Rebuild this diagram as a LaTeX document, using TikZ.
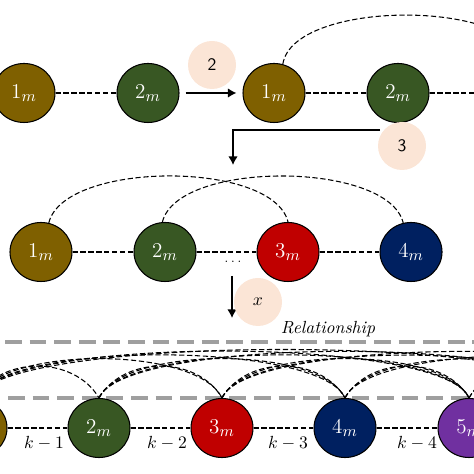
\documentclass[tikz,border=0pt]{standalone}
\usepackage{amsmath}
\usetikzlibrary{arrows.meta, shapes.geometric}

\definecolor{mbrown}{HTML}{7F6000}
\definecolor{mgreen}{HTML}{385723}
\definecolor{mred}{HTML}{C00000}
\definecolor{mnavy}{HTML}{002060}
\definecolor{mpurple}{HTML}{7030A0}
\definecolor{peach}{HTML}{FBE5D6}

\tikzset{
  mnode/.style={ellipse, draw=black, line width=0.6pt, minimum width=1.24cm, minimum height=1.18cm, inner sep=0pt, text=white, font=\fontsize{13}{15}\selectfont},
  tag/.style={circle, fill=peach, minimum size=0.96cm, inner sep=0pt, font=\sffamily},
  link/.style={black, line width=0.6pt, dash pattern=on 3pt off 1.5pt},
  band/.style={gray!75, line width=2.2pt, dash pattern=on 9.5pt off 4.5pt},
  go/.style={black, line width=0.9pt, -{Latex[length=1.7mm, width=1.9mm]}},
}

\begin{document}
\begin{tikzpicture}
\clip (0,0) rectangle (9.48,9.48);

% first row
\node[mnode, fill=mbrown] (n11) at (0.48,7.62) {$1_m$};
\node[mnode, fill=mgreen] (n12) at (2.96,7.62) {$2_m$};
\node[mnode, fill=mbrown] (n13) at (5.48,7.62) {$1_m$};
\node[mnode, fill=mgreen] (n14) at (7.96,7.62) {$2_m$};
\coordinate (n15) at (10.54,8.21);
\coordinate (n1r) at (9.6,7.62);

\draw[link] (n11) -- (n12);
\draw[link] (n13) -- (n14);
\draw[link] (n14) -- (n1r);
\draw[link] (n13.73) .. controls +(0.2,1.3) and +(-0.2,1.3) .. (n15);

\node[tag] (t2) at (4.24,8.18) {2};
\draw[go, shorten <=0.12cm, shorten >=0.12cm] (n12) -- (n13);

% step 3
\coordinate (e3a) at (7.6,6.88);
\coordinate (e3b) at (4.66,6.18);
\draw[go] (e3a) -| (e3b);
\node[tag] (t3) at (8.04,6.56) {3};

% second row
\node[mnode, fill=mbrown] (n21) at (0.82,4.44) {$1_m$};
\node[mnode, fill=mgreen] (n22) at (3.30,4.44) {$2_m$};
\node[mnode, fill=mred] (n23) at (5.76,4.44) {$3_m$};
\node[mnode, fill=mnavy] (n24) at (8.22,4.44) {$4_m$};

\draw[link] (n21) -- (n22);
\draw[link] (n22) -- (n23);
\draw[link] (n23) -- (n24);
\draw[link] (n21.75) .. controls +(0.3,1.24) and +(-0.3,1.24) .. (n23.north);
\draw[link] (n22.95) .. controls +(0.3,1.24) and +(-0.3,1.24) .. (n24.105);

\node (dots) at (4.66,4.24) {\scriptsize$\ldots$};

% step x
\coordinate (xa) at (4.64,3.96);
\coordinate (xb) at (4.64,3.12);
\draw[go] (xa) -- (xb);
\node[tag] (tx) at (5.16,3.44) {$x$};

\node (rel) at (6.56,2.90) {\textit{Relationship}};

\coordinate (b1a) at (0.1,2.64);
\coordinate (b1b) at (9.6,2.64);
\coordinate (b2a) at (0.16,1.52);
\coordinate (b2b) at (9.6,1.52);
\draw[band] (b1a) -- (b1b);
\draw[band] (b2a) -- (b2b);

% third row
\node[mnode, fill=mbrown] (n31) at (-0.48,0.92) {$1_m$};
\node[mnode, fill=mgreen] (n32) at (1.98,0.92) {$2_m$};
\node[mnode, fill=mred] (n33) at (4.44,0.92) {$3_m$};
\node[mnode, fill=mnavy] (n34) at (6.90,0.92) {$4_m$};
\node[mnode, fill=mpurple] (n35) at (9.38,0.92) {$5_m$};
\coordinate (n36) at (11.84,1.51);
\coordinate (n37) at (14.30,1.51);

\draw[link] (n31) -- (n32);
\draw[link] (n32) -- (n33);
\draw[link] (n33) -- (n34);
\draw[link] (n34) -- (n35);

\node (k1) at (0.88,0.62) {$k-1$};
\node (k2) at (3.34,0.62) {$k-2$};
\node (k3) at (5.76,0.62) {$k-3$};
\node (k4) at (8.34,0.62) {$k-4$};

\draw[link] (n31.north) .. controls +(0.5,0.85) and +(-0.5,0.85) .. (n32.north);
\draw[link] (n31.north) .. controls +(0.5,1.05) and +(-0.5,1.05) .. (n33.north);
\draw[link] (n31.north) .. controls +(0.5,1.15) and +(-0.5,1.15) .. (n34.north);
\draw[link] (n31.north) .. controls +(0.5,1.25) and +(-0.5,1.25) .. (n35.north);
\draw[link] (n31.north) .. controls +(0.5,1.30) and +(-0.5,1.30) .. (n36);
\draw[link] (n32.north) .. controls +(0.5,0.85) and +(-0.5,0.85) .. (n33.north);
\draw[link] (n32.north) .. controls +(0.5,1.05) and +(-0.5,1.05) .. (n34.north);
\draw[link] (n32.north) .. controls +(0.5,1.15) and +(-0.5,1.15) .. (n35.north);
\draw[link] (n32.north) .. controls +(0.5,1.25) and +(-0.5,1.25) .. (n36);
\draw[link] (n33.north) .. controls +(0.5,0.85) and +(-0.5,0.85) .. (n34.north);
\draw[link] (n33.north) .. controls +(0.5,1.05) and +(-0.5,1.05) .. (n35.north);
\draw[link] (n33.north) .. controls +(0.5,1.15) and +(-0.5,1.15) .. (n36);
\draw[link] (n33.north) .. controls +(0.5,1.25) and +(-0.5,1.25) .. (n37);
\draw[link] (n34.north) .. controls +(0.5,0.85) and +(-0.5,0.85) .. (n35.north);
\draw[link] (n34.north) .. controls +(0.5,1.05) and +(-0.5,1.05) .. (n36);
\draw[link] (n34.north) .. controls +(0.5,1.15) and +(-0.5,1.15) .. (n37);
\draw[link] (n35.north) .. controls +(0.5,0.85) and +(-0.5,0.85) .. (n36);
\draw[link] (n35.north) .. controls +(0.5,1.05) and +(-0.5,1.05) .. (n37);
\end{tikzpicture}
\end{document}
